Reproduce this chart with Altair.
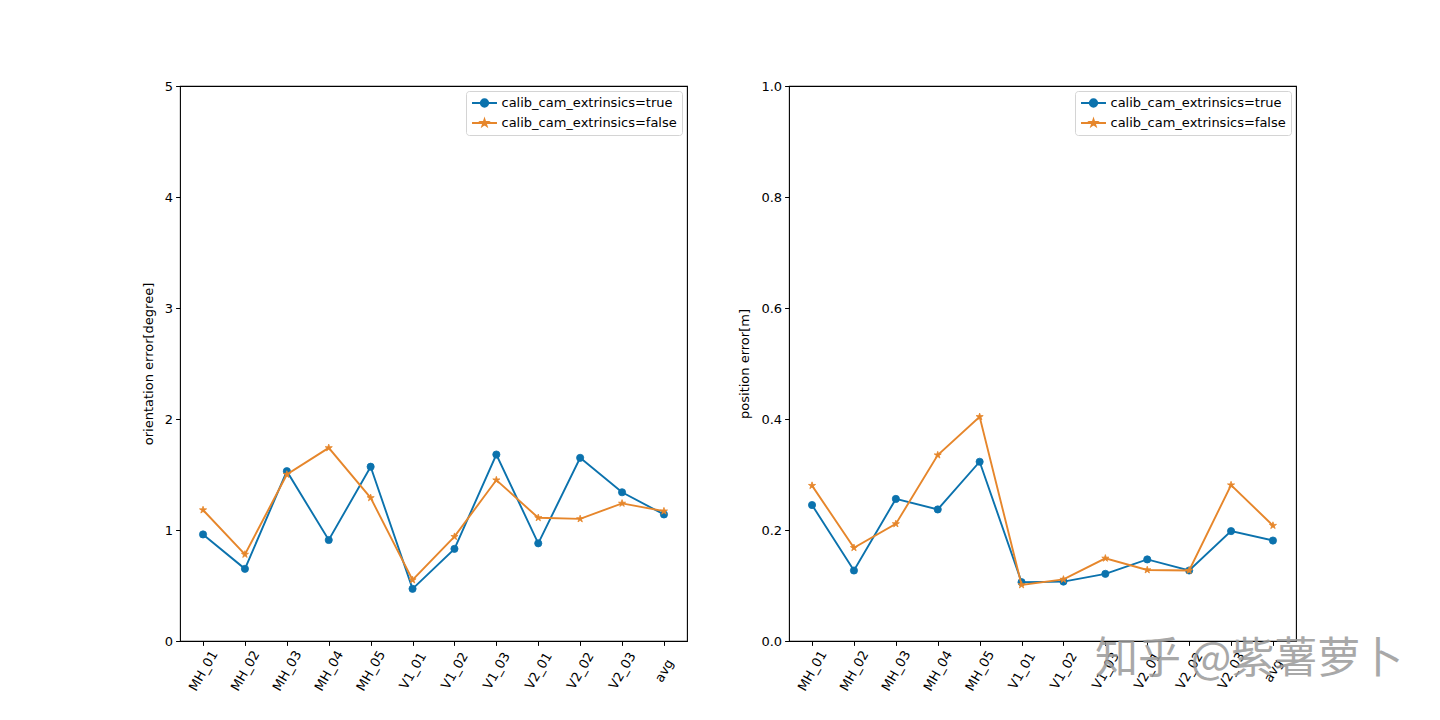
import math
import altair as alt
import pandas as pd

sequences = ["MH_01", "MH_02", "MH_03", "MH_04", "MH_05", "V1_01", "V1_02",
             "V1_03", "V2_01", "V2_02", "V2_03", "avg"]
series_names = ["calib_cam_extrinsics=true", "calib_cam_extrinsics=false"]

orient_true = [0.96, 0.65, 1.53, 0.91, 1.57, 0.47, 0.83, 1.68, 0.88, 1.65, 1.34, 1.14]
orient_false = [1.18, 0.78, 1.50, 1.74, 1.29, 0.55, 0.94, 1.45, 1.11, 1.10, 1.24, 1.17]
pos_true = [0.245, 0.127, 0.256, 0.237, 0.323, 0.106, 0.107, 0.121, 0.147, 0.127, 0.198, 0.181]
pos_false = [0.280, 0.168, 0.211, 0.335, 0.404, 0.101, 0.111, 0.149, 0.128, 0.127, 0.281, 0.208]

BLUE = "#0b72ad"
ORANGE = "#e6862b"
FONT = "DejaVu Sans"
FS = 13


def star_path(r_out, r_in=None):
    if r_in is None:
        r_in = r_out * 0.381966
    pts = []
    for k in range(10):
        a = math.radians(-90 + 36 * k)
        r = r_out if k % 2 == 0 else r_in
        pts.append(f"{r * math.cos(a):.4f},{r * math.sin(a):.4f}")
    return "M" + "L".join(pts) + "Z"


STAR = star_path(1.0)
# legend symbols: unit = 6px (symbolSize 144 -> 12px box)
LEG_LINE = "M-2.08,0L2.08,0"
LEG_CIRCLE = LEG_LINE + "M0.62,0A0.62,0.62 0 1,1 -0.62,0A0.62,0.62 0 1,1 0.62,0Z"
LEG_STAR = LEG_LINE + star_path(0.58)


def make_df(a, b):
    rows = []
    for name, vals in zip(series_names, [a, b]):
        for s, v in zip(sequences, vals):
            rows.append({"seq": s, "value": v, "series": name})
    return pd.DataFrame(rows)


def panel(df, ymax, ytitle, yfmt, yticks, watermark=False):
    x = alt.X("seq:N", sort=sequences, title=None,
              scale=alt.Scale(type="point", padding=0.55),
              axis=alt.Axis(labelAngle=-60, labelAlign="center", labelBaseline="middle",
                            labelPadding=25))
    y = alt.Y("value:Q", title=ytitle,
              scale=alt.Scale(domain=[0, ymax], nice=False, zero=True),
              axis=alt.Axis(values=yticks, format=yfmt, titlePadding=9))
    base = alt.Chart(df)
    layers = []
    for name, col, shp, sz in [(series_names[0], BLUE, "circle", 52),
                               (series_names[1], ORANGE, STAR, 56)]:
        sub = base.transform_filter(alt.datum.series == name)
        layers.append(sub.mark_line(color=col, strokeWidth=1.9).encode(x=x, y=y))
        layers.append(sub.mark_point(filled=True, color=col, opacity=1, size=sz,
                                     shape=shp, stroke=col, strokeWidth=0.8).encode(x=x, y=y))
    legend = alt.Legend(title=None, orient="top-right", offset=5, padding=5,
                        strokeColor="#d4d4d4", fillColor="white", cornerRadius=3,
                        labelFont=FONT, labelFontSize=FS, labelColor="black",
                        symbolSize=144, symbolStrokeWidth=1.9, symbolOffset=6.5,
                        rowPadding=4, labelOffset=10, labelLimit=0)
    dom = alt.Scale(domain=series_names, range=[BLUE, ORANGE])
    dummy = base.transform_filter("false").mark_point(filled=True, opacity=1).encode(
        x=x, y=y,
        fill=alt.Fill("series:N", scale=dom, legend=legend),
        stroke=alt.Stroke("series:N", scale=dom, legend=legend),
        shape=alt.Shape("series:N", scale=alt.Scale(domain=series_names,
                                                    range=[LEG_CIRCLE, LEG_STAR]),
                        legend=legend),
    )
    layers.append(dummy)
    if watermark:
        wm = alt.Chart(pd.DataFrame({"t": ["知乎 @紫薯萝卜"]})).mark_text(
            font="Noto Sans CJK SC", fontSize=43, color="#9a9a9a", opacity=0.85,
            align="left", baseline="middle").encode(
            text="t:N", x=alt.value(306), y=alt.value(574))
        layers.append(wm)
    return alt.layer(*layers).resolve_scale(
        shape="independent", fill="independent", stroke="independent"
    ).resolve_legend(shape="independent", fill="independent", stroke="independent").properties(
        width=507, height=555)


left = panel(make_df(orient_true, orient_false), 5, "orientation error[degree]", "d",
             [0, 1, 2, 3, 4, 5])
right = panel(make_df(pos_true, pos_false), 1.0, "position error[m]", ".1f",
              [0, 0.2, 0.4, 0.6, 0.8, 1.0], watermark=True)

chart = alt.hconcat(left, right, spacing=102, bounds="flush").properties(
    padding={"left": 133, "top": 71, "right": 0, "bottom": 0}
).configure_view(stroke="black", strokeWidth=1.1).configure_axis(
    domain=False, grid=False, tickColor="black", tickSize=4.4, tickWidth=1,
    labelFont=FONT, labelFontSize=FS, labelColor="black", labelPadding=3,
    titleFont=FONT, titleFontSize=FS, titleFontWeight="normal", titleColor="black"
)

chart.save("out.html", embed_options={"renderer": "svg", "actions": False})
